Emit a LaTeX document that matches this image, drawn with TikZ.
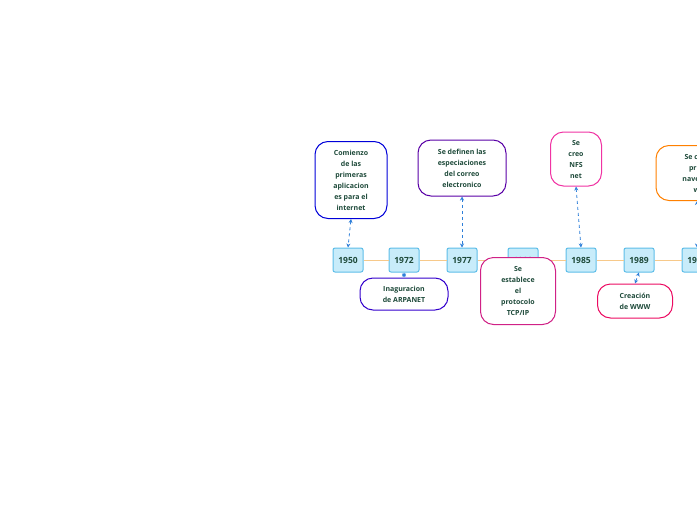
\documentclass[tikz,border=0pt]{standalone}
\usepackage{fontspec}
\setmainfont{Open Sans}
\usetikzlibrary{arrows.meta}
\definecolor{txt}{HTML}{1E4A3A}
\definecolor{yfill}{HTML}{C8ECFA}
\definecolor{ydraw}{HTML}{5DBDE8}
\definecolor{lnk}{HTML}{2E7FD9}
\definecolor{tl}{HTML}{F7C98A}
\tikzset{
 year/.style={draw=ydraw,fill=yfill,line width=1pt,rounded corners=2pt,minimum width=30pt,minimum height=24pt,inner sep=0pt,font=\bfseries\fontsize{8.5}{9}\selectfont,text=txt},
 call/.style={draw=#1,fill=white,line width=1pt,rounded corners=13pt,align=center,font=\bfseries\fontsize{7}{11}\selectfont,text=txt,inner sep=2pt},
 lk/.style={lnk,dashed,line width=0.8pt,{Stealth[length=4pt,width=4pt]}-{Stealth[length=4pt,width=4pt]}},
 tline/.style={tl,line width=1pt}
}
\begin{document}
\begin{tikzpicture}[x=1pt,y=-1pt]
\useasboundingbox (0,0) rectangle (697,520);
\clip (0,0) rectangle (697,520);
\node[year] (y50) at (348,260) {1950};
\node[year] (y72) at (404,260) {1972};
\node[year] (y77) at (462,260) {1977};
\node[year] (y83) at (523,260) {1983};
\node[year] (y85) at (581,260) {1985};
\node[year] (y89) at (639,260) {1989};
\node[year] (y95) at (697,260) {1995};
\node[call=blue!85!black,minimum width=72pt,minimum height=77pt] (c1) at (351,180) {Comienzo\\de las\\primeras\\aplicacion\\es para el\\internet};
\node[call=violet!70!blue,minimum width=88pt,minimum height=56pt] (c2) at (462,168) {Se definen las\\especiaciones\\del correo\\electronico};
\node[call=magenta!80,minimum width=51pt,minimum height=54pt] (c3) at (576,159) {Se\\creo\\NFS\\net};
\node[call=orange,minimum width=90pt,minimum height=55pt] (c4) at (701,173) {Se creo el\\primer\\navegador\\web};
\node[call=blue!60!violet,minimum width=88pt,minimum height=32pt] (c5) at (404,294) {Inaguracion\\de ARPANET};
\node[call=magenta!60!red,minimum width=75pt,minimum height=34pt] (c7) at (635,301) {Creación\\de WWW};
\draw[tline] (y50) -- (y72); \draw[tline] (y72) -- (y77); \draw[tline] (y77) -- (y83);
\draw[tline] (y83) -- (y85); \draw[tline] (y85) -- (y89); \draw[tline] (y89) -- (y95);
\draw[lk] (c1.south) -- (y50.north);
\draw[lk] (c2.south) -- (y77.north);
\draw[lk] (c3.south) -- (y85.north);
\draw[lk] ([xshift=-4pt]c4.south) -- (y95.north);
\draw[lk] (c5.north) -- (y72.south);
\draw[lk] (c7.north) -- (y89.south);
\node[call=magenta!70!violet,minimum width=75pt,minimum height=67pt] (c6) at (518,291) {Se\\establece\\el\\protocolo\\TCP/IP};
\end{tikzpicture}
\end{document}
